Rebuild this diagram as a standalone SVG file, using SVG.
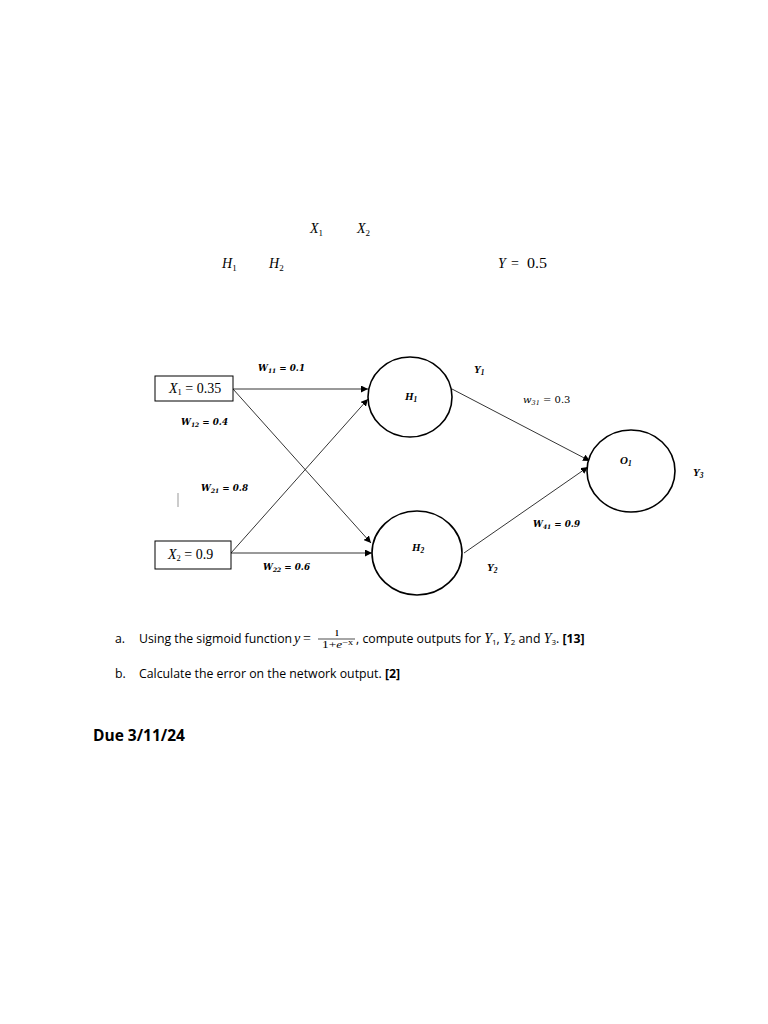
<svg xmlns="http://www.w3.org/2000/svg" width="768" height="1024" viewBox="0 0 768 1024">
<style>
.m{font-family:"Liberation Serif","DejaVu Serif",serif;font-style:italic;font-size:14px;fill:#000}
.mr{font-family:"Liberation Serif","DejaVu Serif",serif;font-size:14px;fill:#000}
.w{font-family:"DejaVu Serif","Liberation Serif",serif;font-weight:bold;font-style:italic;font-size:8.8px;fill:#000}
.wn{font-family:"DejaVu Serif","Liberation Serif",serif;font-style:italic;font-size:10px;fill:#000}
.lb{font-family:"Liberation Serif","DejaVu Serif",serif;font-weight:bold;font-style:italic;font-size:11px;fill:#000}
.t{font-family:"Open Sans","Liberation Sans",sans-serif;font-size:12.3px;fill:#000}
.node{fill:#fff;stroke:#000;stroke-width:1.6}
.box{fill:#fff;stroke:#000;stroke-width:1}
.edge{stroke:#000;stroke-width:0.8;fill:none;marker-end:url(#ah)}
</style>
<defs>
<marker id="ah" viewBox="0 0 10 10" refX="10" refY="5" markerWidth="7" markerHeight="7" markerUnits="userSpaceOnUse" orient="auto">
<path d="M0,0 L10,5 L0,10 z" fill="#000"/>
</marker>
</defs>
<rect width="768" height="1024" fill="#fff"/>

<g id="header">
<text class="m" x="310" y="233">X<tspan font-size="9" font-style="normal" dy="3">1</tspan></text>
<text class="m" x="357" y="233">X<tspan font-size="9" font-style="normal" dy="3">2</tspan></text>
<text class="m" x="222" y="268">H<tspan font-size="9" font-style="normal" dy="3">1</tspan></text>
<text class="m" x="269" y="268">H<tspan font-size="9" font-style="normal" dy="3">2</tspan></text>
<text class="m" x="498" y="268">Y</text>
<text class="mr" x="511" y="268">=</text>
<text class="mr" x="527" y="268" style="font-size:15px" textLength="20" lengthAdjust="spacingAndGlyphs">0.5</text>
</g>

<g id="connectors">
<line class="edge" x1="233" y1="389" x2="368" y2="389"/>
<line class="edge" x1="233" y1="389" x2="371" y2="543"/>
<line class="edge" x1="231" y1="553" x2="368" y2="399"/>
<line class="edge" x1="231" y1="553" x2="372" y2="553"/>
<line class="edge" x1="452" y1="389" x2="590" y2="461"/>
<line class="edge" x1="464" y1="553" x2="588" y2="467"/>
<line x1="178" y1="493" x2="178" y2="507" stroke="#999" stroke-width="1"/>
</g>

<g id="x1">
<rect class="box" x="155" y="376" width="78" height="25"/>
<text class="m" x="169" y="393">X<tspan font-size="8.5" font-style="normal" dy="2">1</tspan><tspan font-style="normal" dy="-2"> = 0.35</tspan></text>
</g>
<g id="x2">
<rect class="box" x="155" y="541" width="76" height="28"/>
<text class="m" x="168" y="559">X<tspan font-size="8.5" font-style="normal" dy="2">2</tspan><tspan font-style="normal" dy="-2"> = 0.9</tspan></text>
</g>
<g id="h1">
<ellipse class="node" cx="410" cy="397" rx="42" ry="40"/>
<text class="lb" x="405" y="400">H<tspan font-size="7.5" dy="2">1</tspan></text>
</g>
<g id="h2">
<ellipse class="node" cx="417" cy="553" rx="45" ry="42"/>
<text class="lb" x="412" y="551">H<tspan font-size="7.5" dy="2">2</tspan></text>
</g>
<g id="o1">
<ellipse class="node" cx="631" cy="471" rx="44" ry="41"/>
<text class="lb" x="620" y="464">O<tspan font-size="7.5" dy="2">1</tspan></text>
</g>

<g id="labels">
<text class="w" x="258" y="371">W<tspan font-size="6" dy="2">11</tspan><tspan dy="-2"> = 0.1</tspan></text>
<text class="w" x="181" y="425">W<tspan font-size="6" dy="2">12</tspan><tspan dy="-2"> = 0.4</tspan></text>
<text class="w" x="201" y="491">W<tspan font-size="6" dy="2">21</tspan><tspan dy="-2"> = 0.8</tspan></text>
<text class="w" x="263" y="570">W<tspan font-size="6" dy="2">22</tspan><tspan dy="-2"> = 0.6</tspan></text>
<text class="wn" x="523" y="403">w<tspan font-size="6.5" dy="2">31</tspan><tspan dy="-2" font-style="normal"> = 0.3</tspan></text>
<text class="w" x="533" y="527">W<tspan font-size="6" dy="2">41</tspan><tspan dy="-2"> = 0.9</tspan></text>
<text class="lb" x="474" y="373">Y<tspan font-size="7.5" dy="2">1</tspan></text>
<text class="lb" x="487" y="571">Y<tspan font-size="7.5" dy="2">2</tspan></text>
<text class="lb" x="693" y="476">Y<tspan font-size="7.5" dy="2">3</tspan></text>
</g>

<g id="questions">
<text class="t" x="115" y="643">a.</text>
<text class="t" x="139" y="643">Using the sigmoid function</text>
<text class="m" x="294" y="643">y</text>
<text class="mr" x="303" y="643">=</text>
<text class="mr" x="335" y="636" style="font-size:7.5px;font-weight:bold">1</text>
<line x1="318" y1="639" x2="355" y2="639" stroke="#000" stroke-width="0.7"/>
<text class="mr" x="322" y="648" style="font-size:10.5px" textLength="31" lengthAdjust="spacingAndGlyphs">1+<tspan font-style="italic">e</tspan><tspan font-size="8" dy="-3">−x</tspan></text>
<text class="t" x="356" y="643">, compute outputs for <tspan class="m">Y</tspan><tspan font-size="8" dy="2">1</tspan><tspan dy="-2">, </tspan><tspan class="m">Y</tspan><tspan font-size="8" dy="2">2</tspan><tspan dy="-2"> and </tspan><tspan class="m">Y</tspan><tspan font-size="8" dy="2">3</tspan><tspan dy="-2">. <tspan font-weight="bold">[13]</tspan></tspan></text>
<text class="t" x="115" y="678">b.</text>
<text class="t" x="139" y="678">Calculate the error on the network output. <tspan font-weight="bold">[2]</tspan></text>
<text x="93" y="741" font-family="Open Sans, Liberation Sans, sans-serif" font-weight="bold" font-size="15.5" fill="#000">Due 3/11/24</text>
</g>
</svg>
